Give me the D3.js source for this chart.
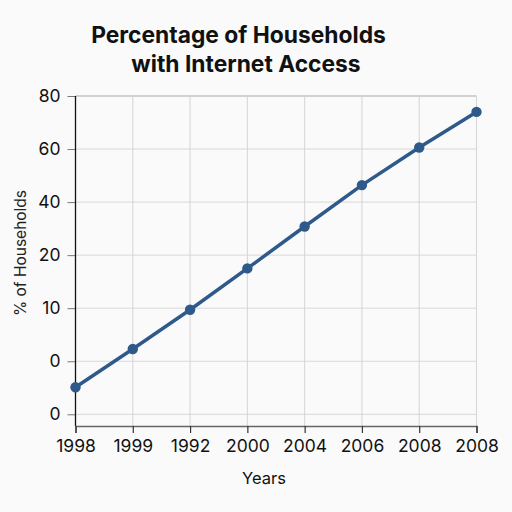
<!DOCTYPE html>
<html><head><meta charset="utf-8">
<script src="https://cdn.jsdelivr.net/npm/d3@7"></script>
<style>html,body{margin:0;padding:0;background:#fafafa;}svg{display:block;}</style>
</head><body>
<svg id="c" width="512" height="512"></svg>
<script>
// x categories as printed on the axis
const years = ["1998","1999","1992","2000","2004","2006","2008","2008"];
// y tick labels as printed (bottom to top, equally spaced slots)
const yTickLabels = ["0","0","10","20","40","60","80"];
// point heights measured in tick-slot units (0 = bottom tick, 6 = top tick)
const values = [0.51, 1.23, 1.97, 2.75, 3.54, 4.32, 5.03, 5.70];

const svg = d3.select("#c");
const font = "Inter, 'Liberation Sans', Arial, sans-serif";
const L = 75.5, R = 476.5, T = 96, B = 414.3, AX = 426;

const x = d3.scalePoint().domain(d3.range(years.length)).range([L, R]);
const y = d3.scaleLinear().domain([0, yTickLabels.length - 1]).range([B, T]);

svg.append("rect").attr("width",512).attr("height",512).attr("fill","#fafafa");

// grid
const g = svg.append("g");
g.selectAll("line.h").data(d3.range(yTickLabels.length)).join("line")
  .attr("x1", L).attr("x2", R).attr("y1", d=>y(d)).attr("y2", d=>y(d))
  .attr("stroke", d => d === yTickLabels.length-1 ? "#aaaaaa" : "#d8d8d8").attr("stroke-width", 1);
g.selectAll("line.v").data(d3.range(1, years.length)).join("line")
  .attr("x1", d=>x(d)).attr("x2", d=>x(d)).attr("y1", T).attr("y2", AX)
  .attr("stroke", "#d4d4d4").attr("stroke-width", 1);

// y axis
const ya = svg.append("g").attr("transform", `translate(${L},0)`)
  .call(d3.axisLeft(y).tickValues(d3.range(yTickLabels.length)).tickFormat(i => yTickLabels[i]).tickSize(8).tickPadding(7));
ya.select(".domain").remove();
ya.selectAll(".tick line").attr("stroke", "#777");
ya.selectAll(".tick text").attr("font-family", font).attr("font-size", 17.5).attr("fill", "#111");
svg.append("line").attr("x1", L).attr("x2", L).attr("y1", T).attr("y2", AX).attr("stroke", "#111").attr("stroke-width", 1.3);

// x axis
const xa = svg.append("g").attr("transform", `translate(0,${AX})`)
  .call(d3.axisBottom(x).tickFormat(i => years[i]).tickSize(7).tickPadding(7));
xa.select(".domain").attr("stroke", "#666").attr("stroke-width", 1.5);
xa.selectAll(".tick line").attr("stroke", "#333").attr("stroke-width", 1.2);
xa.selectAll(".tick text").attr("font-family", font).attr("font-size", 17.5).attr("fill", "#111");

// line + points
const line = d3.line().x((d,i)=>x(i)).y(d=>y(d));
svg.append("path").datum(values).attr("d", line).attr("fill","none")
  .attr("stroke","#2e5a8b").attr("stroke-width",3.5).attr("stroke-linejoin","round");
svg.selectAll("circle.p").data(values).join("circle")
  .attr("cx",(d,i)=>x(i)).attr("cy",d=>y(d)).attr("r",5.2).attr("fill","#2e5a8b");

// titles
svg.append("text").attr("x",238.5).attr("y",43).attr("text-anchor","middle")
  .attr("font-family",font).attr("font-weight",700).attr("font-size",22.8).attr("fill","#111")
  .text("Percentage of Households");
svg.append("text").attr("x",246).attr("y",72).attr("text-anchor","middle")
  .attr("font-family",font).attr("font-weight",700).attr("font-size",22.8).attr("fill","#111")
  .text("with Internet Access");
svg.append("text").attr("x",264).attr("y",484).attr("text-anchor","middle")
  .attr("font-family",font).attr("font-size",16.5).attr("fill","#111").text("Years");
svg.append("text").attr("transform","translate(26,253) rotate(-90)").attr("text-anchor","middle")
  .attr("font-family",font).attr("font-size",15.5).attr("fill","#222").text("% of Households");
</script>
</body></html>
